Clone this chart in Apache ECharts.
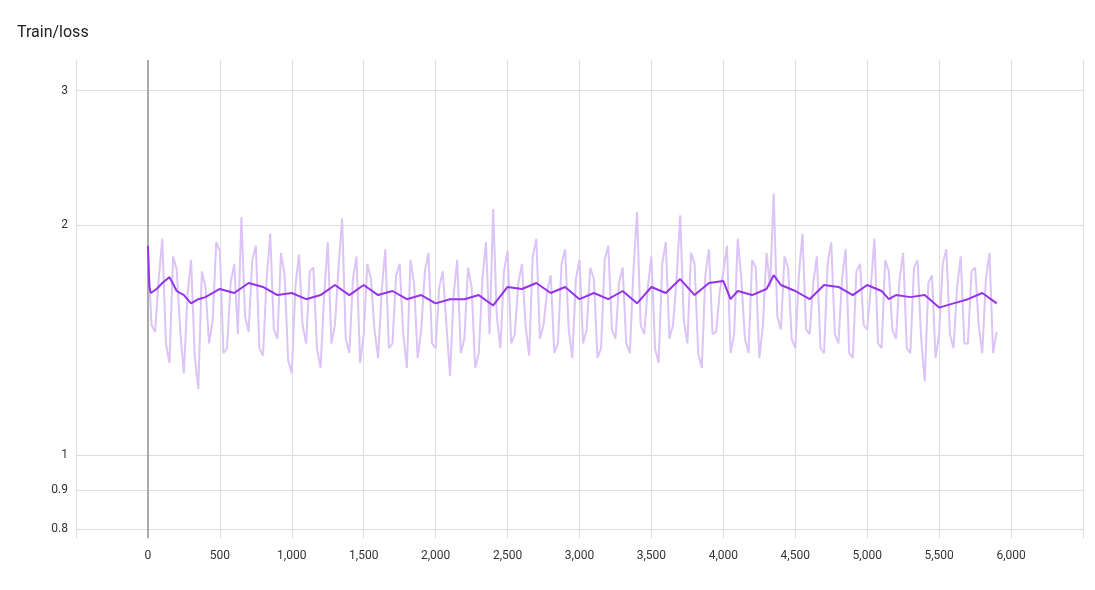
<!DOCTYPE html>
<html><head><meta charset="utf-8">
<script src="https://cdn.jsdelivr.net/npm/echarts@6/dist/echarts.min.js"></script>
<style>html,body{margin:0;padding:0;background:#fff}#c{width:1095px;height:590px}</style>
</head><body><div id="c"></div>
<script>
const title = "Train/loss";
const yTicks = [0.8, 0.9, 1, 2, 3];
const xTicks = [0,500,1000,1500,2000,2500,3000,3500,4000,4500,5000,5500,6000];
const rawSteps = [];
for (let s = 0; s <= 5900; s += 50) rawSteps.push(s);
const rawValues = [
1.85,1.45,1.92,1.32,1.75,1.28,1.80,1.22,1.66,1.50,1.85,1.38,1.78,2.05,1.45,1.88,1.35,1.95,1.42,1.72,
1.28,1.83,1.40,1.76,1.30,1.90,1.48,2.04,1.36,1.82,1.44,1.70,1.34,1.86,1.40,1.78,1.30,1.68,1.46,1.84,
1.38,1.74,1.27,1.80,1.42,1.66,1.36,1.90,2.10,1.38,1.85,1.44,1.78,1.35,1.92,1.48,1.72,1.40,1.86,1.34,
1.80,1.46,1.70,1.38,1.88,1.42,1.76,1.36,2.08,1.44,1.82,1.32,1.90,1.48,2.06,1.40,1.78,1.30,1.86,1.45,
1.74,1.36,1.92,1.42,1.80,1.34,1.84,2.20,1.46,1.76,1.38,1.95,1.44,1.82,1.36,1.90,1.40,1.86,1.34,1.78,
1.46,1.92,1.38,1.74,1.42,1.84,1.36,1.80,1.25,1.72,1.44,1.86,1.38,1.82,1.40,1.76,1.36,1.84,1.45
];
const midSteps = [];
for (let s = 25; s <= 5875; s += 50) midSteps.push(s);
const midValues = [
1.48,1.70,1.40,1.82,1.45,1.62,1.35,1.74,1.40,1.90,1.36,1.68,1.44,1.52,1.80,1.38,1.70,1.46,1.84,1.33,
1.66,1.48,1.74,1.38,1.62,1.40,1.76,1.42,1.70,1.32,1.78,1.46,1.64,1.38,1.72,1.44,1.80,1.34,1.74,1.40,
1.66,1.48,1.62,1.36,1.76,1.30,1.70,1.44,1.52,1.74,1.40,1.68,1.48,1.82,1.42,1.64,1.36,1.78,1.46,1.70,
1.40,1.76,1.34,1.80,1.46,1.68,1.40,1.74,1.48,1.66,1.38,1.78,1.42,1.70,1.50,1.84,1.36,1.72,1.44,1.64,
1.88,1.44,1.70,1.36,1.76,1.48,1.66,1.52,1.82,1.42,1.72,1.46,1.68,1.38,1.78,1.44,1.70,1.36,1.74,1.48,
1.66,1.40,1.80,1.46,1.70,1.38,1.76,1.42,1.68,1.34,1.78,1.44,1.66,1.40,1.74,1.48,1.70,1.36
];
const smoothSteps = [0,10,20,60,100,150,200,250,300,350,400,500,600,700,800,900,1000,1100,1200,1300,1400,1500,1600,1700,1800,1900,2000,2100,2200,2300,2400,2500,2600,2700,2800,2900,3000,3100,3200,3300,3400,3500,3600,3700,3800,3900,4000,4050,4100,4200,4300,4350,4400,4500,4600,4700,4800,4900,5000,5100,5150,5200,5300,5400,5500,5600,5700,5800,5900];
const smoothValues = [1.88,1.66,1.63,1.65,1.68,1.71,1.64,1.62,1.58,1.60,1.61,1.65,1.63,1.68,1.66,1.62,1.63,1.60,1.62,1.67,1.62,1.67,1.62,1.64,1.60,1.62,1.58,1.60,1.60,1.62,1.57,1.66,1.65,1.68,1.63,1.66,1.60,1.63,1.60,1.64,1.58,1.66,1.63,1.70,1.62,1.68,1.69,1.60,1.64,1.62,1.65,1.72,1.67,1.64,1.60,1.67,1.66,1.62,1.67,1.64,1.60,1.62,1.61,1.62,1.56,1.58,1.60,1.63,1.58];
const L = v => Math.log10(v);
const rawPairs = rawSteps.map((s,i)=>[s,rawValues[i]]).concat(midSteps.map((s,i)=>[s,midValues[i]])).sort((a,b)=>a[0]-b[0]);
const chart = echarts.init(document.getElementById('c'));
chart.setOption({
  animation:false,
  title:{text:title,left:12,top:20,textStyle:{fontFamily:'Roboto',fontSize:16,fontWeight:'normal',color:'#212121'}},
  grid:{left:76,right:12,top:60,bottom:52},
  xAxis:{type:'value',min:-500,max:6500,interval:500,
    axisLine:{show:false},axisTick:{show:false},
    axisLabel:{fontFamily:'Roboto',fontSize:12,color:'#333',margin:12,
      customValues:xTicks,formatter:v=>v.toLocaleString('en-US')},
    splitLine:{lineStyle:{color:'#ddd'}}},
  yAxis:{type:'value',min:L(0.779),max:L(3.29),
    axisLine:{show:true,lineStyle:{color:'#ccc'}},axisTick:{show:false,customValues:yTicks.map(L)},
    axisLabel:{fontFamily:'Roboto',fontSize:12,color:'#333',customValues:yTicks.map(L),
      formatter:v=>String(Math.round(Math.pow(10,v)*10)/10)},
    splitLine:{show:true,lineStyle:{color:'#ddd'}}},
  series:[
    {type:'line',data:[[0,L(0.779)],[0,L(3.29)]],symbol:'none',lineStyle:{color:'#999',width:1.5},silent:true},
    {type:'line',data:rawPairs.map(p=>[p[0],L(p[1])]),symbol:'none',lineStyle:{color:'#dcc4f6',width:2}},
    {type:'line',data:smoothSteps.map((s,i)=>[s,L(smoothValues[i])]),symbol:'none',lineStyle:{color:'#9334e6',width:2}}
  ]
});
</script></body></html>
